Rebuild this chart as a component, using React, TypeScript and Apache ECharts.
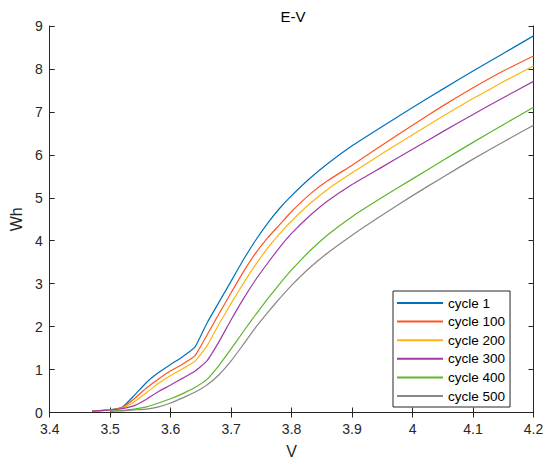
import React, { useEffect, useRef } from "react";
import * as echarts from "echarts";

const TITLE = "E-V";
const X_NAME = "V";
const Y_NAME = "Wh";

const VOLTAGE = [
  3.47, 3.5, 3.52, 3.54, 3.56, 3.58, 3.6, 3.62, 3.64, 3.66, 3.68, 3.7, 3.72,
  3.74, 3.76, 3.78, 3.8, 3.83, 3.86, 3.9, 3.95, 4.0, 4.05, 4.1, 4.15, 4.2,
];

const CYCLE_1 = [
  0.03, 0.06, 0.12, 0.4, 0.7, 0.93, 1.12, 1.3, 1.52, 2.08, 2.57, 3.06, 3.55,
  4.0, 4.4, 4.75, 5.05, 5.45, 5.8, 6.21, 6.66, 7.1, 7.53, 7.95, 8.36, 8.77,
];
const CYCLE_100 = [
  0.03, 0.06, 0.12, 0.32, 0.57, 0.78, 0.97, 1.13, 1.32, 1.8, 2.3, 2.79, 3.27,
  3.7, 4.06, 4.37, 4.68, 5.08, 5.4, 5.76, 6.23, 6.69, 7.14, 7.56, 7.95, 8.3,
];
const CYCLE_200 = [
  0.03, 0.06, 0.1, 0.25, 0.46, 0.68, 0.86, 1.02, 1.19, 1.55, 2.06, 2.54, 3.0,
  3.43, 3.82, 4.16, 4.46, 4.86, 5.2, 5.58, 6.03, 6.47, 6.9, 7.31, 7.7, 8.07,
];
const CYCLE_300 = [
  0.03, 0.06, 0.09, 0.16, 0.31, 0.49, 0.64, 0.8, 0.96, 1.2, 1.65, 2.16, 2.64,
  3.08, 3.47, 3.84, 4.17, 4.58, 4.93, 5.31, 5.72, 6.13, 6.54, 6.94, 7.33, 7.71,
];
const CYCLE_400 = [
  null, 0.03, 0.05, 0.08, 0.13, 0.22, 0.32, 0.44, 0.58, 0.77, 1.1, 1.48, 1.88,
  2.27, 2.64, 2.99, 3.32, 3.76, 4.14, 4.56, 5.01, 5.44, 5.87, 6.29, 6.7, 7.11,
];
const CYCLE_500 = [
  null, 0.03, 0.04, 0.06, 0.08, 0.13, 0.22, 0.34, 0.47, 0.64, 0.88, 1.2, 1.58,
  1.97, 2.32, 2.65, 2.96, 3.37, 3.72, 4.13, 4.6, 5.05, 5.48, 5.9, 6.3, 6.69,
];

const SERIES_NAMES = ["cycle 1", "cycle 100", "cycle 200", "cycle 300", "cycle 400", "cycle 500"];
const SERIES_VALUES = [CYCLE_1, CYCLE_100, CYCLE_200, CYCLE_300, CYCLE_400, CYCLE_500];
const COLORS = ["#0072BD", "#FF5522", "#FFB310", "#A03AA8", "#5AB82A", "#888888"];

const FONT = "'Liberation Sans', Arial, Helvetica, sans-serif";
const INK = "#262626";

function fmt(v: number) {
  return String(parseFloat(v.toFixed(2)));
}

export default function App() {
  const ref = useRef<HTMLDivElement>(null);
  useEffect(() => {
    if (!ref.current) return;
    const chart = echarts.init(ref.current, undefined, { renderer: "svg" });
    const axisCommon = {
      axisLine: { show: true, lineStyle: { color: INK, width: 1 } },
      axisTick: { show: true, inside: true, length: 5, lineStyle: { color: INK, width: 1 } },
      splitLine: { show: false },
    };
    chart.setOption({
      animation: false,
      backgroundColor: "#ffffff",
      title: {
        text: TITLE,
        left: 288,
        top: 4,
        textAlign: "center",
        textStyle: { fontFamily: FONT, fontSize: 15, fontWeight: "normal", color: "#000" },
      },
      grid: { left: 43.5, right: 16.5, top: 26, bottom: 52.5, containLabel: false },
      legend: {
        orient: "vertical",
        left: 393,
        top: 291,
        width: 116,
        padding: [5, 5, 4, 4],
        icon: "rect",
        itemWidth: 46,
        itemHeight: 2,
        itemGap: 4.6,
        borderColor: INK,
        borderWidth: 1,
        backgroundColor: "#ffffff",
        textStyle: { fontFamily: FONT, fontSize: 13.5, color: "#000", lineHeight: 14 },
        data: SERIES_NAMES,
      },
      xAxis: [
        {
          ...axisCommon,
          type: "value",
          min: 3.4,
          max: 4.2,
          interval: 0.1,
          name: X_NAME,
          nameLocation: "middle",
          nameGap: 31,
          nameTextStyle: { fontFamily: FONT, fontSize: 16, color: INK },
          axisLabel: { fontFamily: FONT, fontSize: 14, color: INK, margin: 9, formatter: fmt },
        },
        {
          ...axisCommon,
          type: "value",
          position: "top",
          min: 3.4,
          max: 4.2,
          interval: 0.1,
          axisLabel: { show: false },
        },
      ],
      yAxis: [
        {
          ...axisCommon,
          type: "value",
          min: 0,
          max: 9,
          interval: 1,
          name: Y_NAME,
          nameLocation: "middle",
          nameGap: 22,
          nameTextStyle: { fontFamily: FONT, fontSize: 16, color: INK },
          axisLabel: { fontFamily: FONT, fontSize: 14, color: INK, margin: 7, formatter: fmt },
        },
        {
          ...axisCommon,
          type: "value",
          position: "right",
          min: 0,
          max: 9,
          interval: 1,
          axisLabel: { show: false },
        },
      ],
      series: SERIES_NAMES.map((name, i) => ({
        name,
        type: "line",
        xAxisIndex: 0,
        yAxisIndex: 0,
        symbol: "none",
        showSymbol: false,
        smooth: 0.15,
        connectNulls: false,
        color: COLORS[i],
        itemStyle: { color: COLORS[i] },
        lineStyle: { color: COLORS[i], width: 1.2 },
        data: VOLTAGE.map((v, j) => [v, SERIES_VALUES[i][j]]).filter((p) => p[1] !== null),
      })),
    });
    return () => chart.dispose();
  }, []);
  return (
    <div
      ref={ref}
      style={{ position: "fixed", left: 0, top: 0, width: 550, height: 465, background: "#fff" }}
    />
  );
}
